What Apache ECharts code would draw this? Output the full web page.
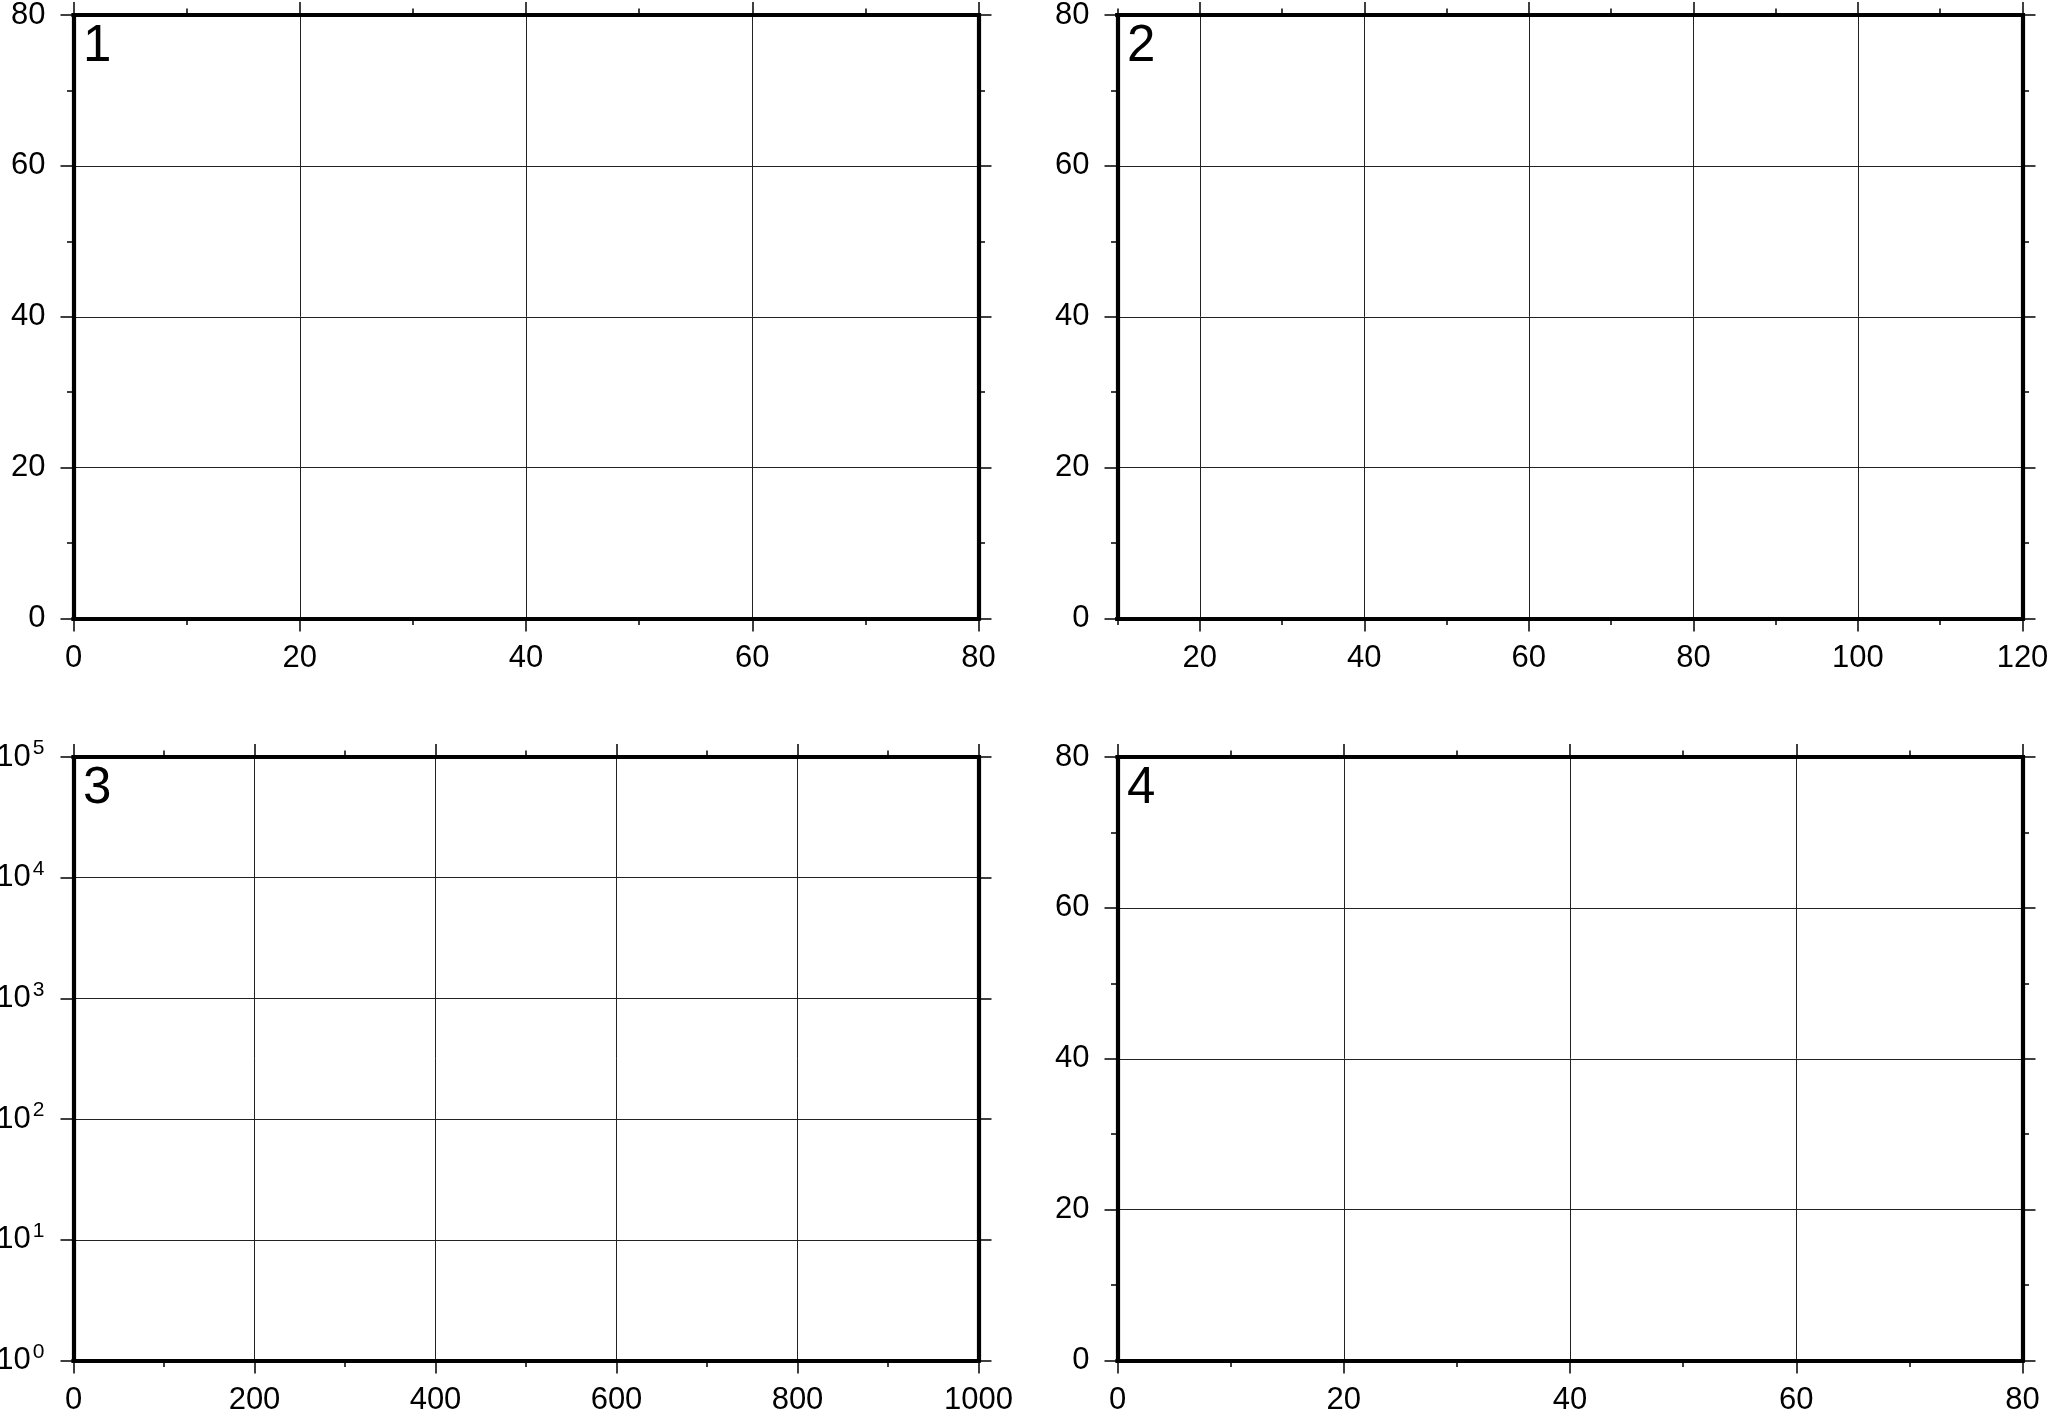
<!DOCTYPE html>
<html>
<head>
<meta charset="utf-8">
<script src="https://cdn.jsdelivr.net/npm/echarts@6/dist/echarts.min.js"></script>
<style>
html,body{margin:0;padding:0;background:#fff;}
#chart{width:2048px;height:1411px;}
</style>
</head>
<body>
<div id="chart"></div>
<script>
// ---- data (axis ranges and tick labels) ----
const panelNames = ['1', '2', '3', '4'];
const xMins = [0, 10, 0, 0];
const xMaxs = [80, 120, 1000, 80];
const xMajorSteps = [20, 20, 200, 20];
const xMinorSteps = [10, 10, 100, 10];
const yMins = [0, 0, 1, 0];
const yMaxs = [80, 80, 100000, 80];
const yMajorSteps = [20, 20, null, 20];
const yTypes = ['value', 'value', 'log', 'value'];
const panel2XTickLabels = [20, 40, 60, 80, 100, 120];

// ---- layout ----
const FONT = 'Liberation Sans';
const grids = [
  {left: 73.5, top: 15, width: 905, height: 603.5},
  {left: 1117.5, top: 15, width: 905, height: 603.5},
  {left: 73.5, top: 757, width: 905, height: 603.5},
  {left: 1117.5, top: 757, width: 905, height: 603.5}
];
const LINE = {color: '#000', width: 4.2, cap: 'square'};
const MAJOR_LEN = 13, MINOR_LEN = 6.5;
const LABEL_SIZE = 31;

const xAxes = [], yAxes = [], series = [];

function baseAxis(gi, pos, type, min, max) {
  const a = {
    gridIndex: gi, position: pos, type: type, min: min, max: max,
    axisLine: {show: true, onZero: false, lineStyle: LINE},
    axisTick: {show: true, inside: false, length: MAJOR_LEN, lineStyle: {color: '#000', width: 1.5}},
    axisLabel: {show: false},
    splitLine: {show: false},
    minorTick: {show: false},
    minorSplitLine: {show: false}
  };
  if (type === 'log') { a.logBase = 10; a.splitNumber = 5; }
  return a;
}

function labelStyle(isX) {
  return {
    show: true, color: '#000', fontFamily: FONT, fontSize: LABEL_SIZE,
    margin: isX ? 24 : 28,
    formatter: function (v) { return String(v); }
  };
}

for (let gi = 0; gi < 4; gi++) {
  // X axes
  if (gi === 1) {
    ['bottom', 'top'].forEach(pos => {
      const minor = baseAxis(gi, pos, 'value', xMins[gi], xMaxs[gi]);
      minor.interval = xMinorSteps[gi];
      minor.axisTick.length = MINOR_LEN;
      xAxes.push(minor);
      const major = baseAxis(gi, pos, 'value', xMins[gi], xMaxs[gi]);
      major.interval = xMinorSteps[gi];
      major.axisTick.customValues = panel2XTickLabels;
      if (pos === 'bottom') {
        major.axisLabel = Object.assign(labelStyle(true), {customValues: panel2XTickLabels});
        major.splitLine = {show: true, lineStyle: {color: '#222', width: 1}};
      }
      xAxes.push(major);
    });
  } else {
    ['bottom', 'top'].forEach(pos => {
      const a = baseAxis(gi, pos, 'value', xMins[gi], xMaxs[gi]);
      a.interval = xMajorSteps[gi];
      a.minorTick = {show: true, splitNumber: xMajorSteps[gi] / xMinorSteps[gi], length: MINOR_LEN, lineStyle: {color: '#000', width: 1.5}};
      if (pos === 'bottom') {
        a.axisLabel = labelStyle(true);
        a.splitLine = {show: true, lineStyle: {color: '#222', width: 1}};
      }
      xAxes.push(a);
    });
  }
  const xBottomIndex = xAxes.findIndex(a => a.gridIndex === gi && a.position === 'bottom');

  // Y axes
  ['left', 'right'].forEach(pos => {
    const a = baseAxis(gi, pos, yTypes[gi], yMins[gi], yMaxs[gi]);
    if (yTypes[gi] === 'value') {
      a.interval = yMajorSteps[gi];
      a.minorTick = {show: true, splitNumber: 2, length: MINOR_LEN, lineStyle: {color: '#000', width: 1.5}};
    }
    if (pos === 'left') {
      a.axisLabel = labelStyle(false);
      a.splitLine = {show: true, lineStyle: {color: '#222', width: 1}};
      if (yTypes[gi] === 'log') {
        a.axisLabel.margin = 29;
        a.axisLabel.formatter = function (v) {
          const e = Math.round(Math.log10(v));
          return '{m|10}{s|' + e + '}';
        };
        a.axisLabel.rich = {
          m: {fontSize: LABEL_SIZE, fontFamily: FONT, color: '#000', lineHeight: 38},
          s: {fontSize: 21, fontFamily: FONT, color: '#000', lineHeight: 21, verticalAlign: 'top', padding: [0, 0, 0, 2]}
        };
      }
    }
    yAxes.push(a);
  });
  const yLeftIndex = yAxes.findIndex(a => a.gridIndex === gi && a.position === 'left');

  series.push({type: 'scatter', xAxisIndex: xBottomIndex, yAxisIndex: yLeftIndex, data: []});
}

const graphics = panelNames.map((name, i) => ({
  type: 'text',
  left: grids[i].left + 9.5,
  top: grids[i].top + 6,
  style: {text: name, fontSize: 51, fontFamily: FONT, fill: '#000'}
}));

const chart = echarts.init(document.getElementById('chart'), null, {renderer: 'canvas'});
chart.setOption({
  backgroundColor: '#fff',
  animation: false,
  grid: grids.map(g => Object.assign({containLabel: false, outerBoundsMode: 'none'}, g)),
  xAxis: xAxes,
  yAxis: yAxes,
  series: series,
  graphic: graphics
});
</script>
</body>
</html>
